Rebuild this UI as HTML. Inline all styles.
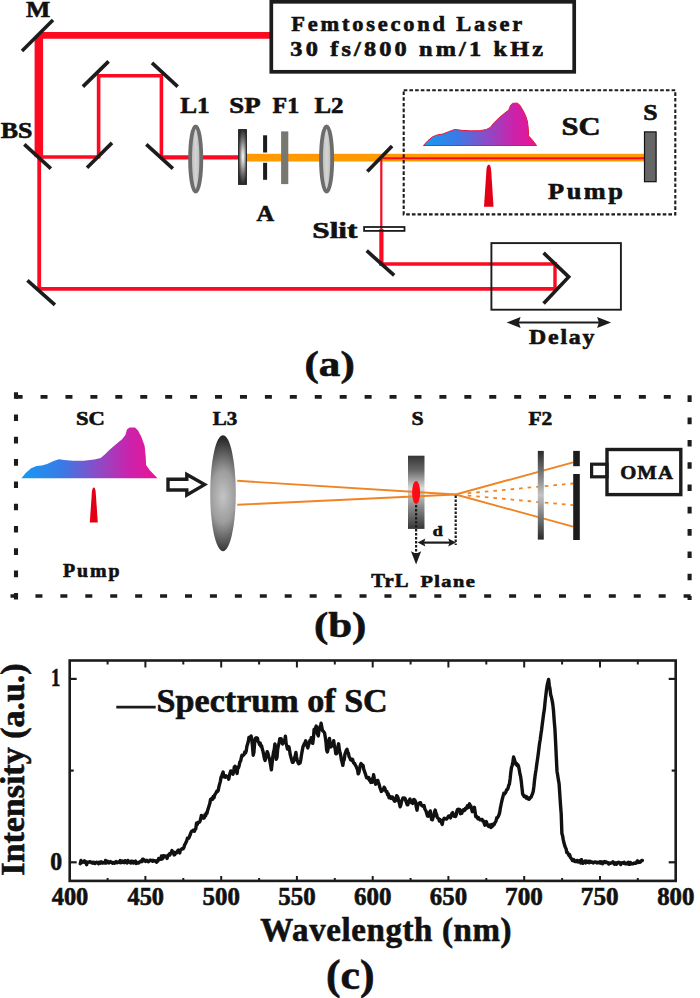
<!DOCTYPE html>
<html><head><meta charset="utf-8"><title>Setup</title>
<style>html,body{margin:0;padding:0;background:#fff;} svg{display:block;} text{font-family:'Liberation Serif', 'Times New Roman', serif;font-weight:bold;fill:#111;stroke:#111;stroke-width:0.6px;}</style>
</head><body>
<svg width="700" height="998" viewBox="0 0 700 998">
<defs>
<linearGradient id="lensg" x1="0" x2="1" y1="0" y2="0"><stop offset="0" stop-color="#b4b4b4"/><stop offset="0.5" stop-color="#d4d4d4"/><stop offset="1" stop-color="#b4b4b4"/></linearGradient>
<radialGradient id="spg" cx="0.55" cy="0.49" r="0.5" fx="0.55" fy="0.49" gradientTransform="translate(0.55 0.49) scale(1.3 1) translate(-0.55 -0.49)"><stop offset="0" stop-color="#ffffff"/><stop offset="0.25" stop-color="#c8c8c8"/><stop offset="0.6" stop-color="#767676"/><stop offset="1" stop-color="#2c2c2c"/></radialGradient>
<linearGradient id="scg" x1="423" x2="537" y1="0" y2="0" gradientUnits="userSpaceOnUse"><stop offset="0" stop-color="#1799f2"/><stop offset="0.3" stop-color="#3a7ae6"/><stop offset="0.55" stop-color="#8a4cc8"/><stop offset="0.8" stop-color="#cc22aa"/><stop offset="1" stop-color="#ea1496"/></linearGradient>
<linearGradient id="scg2" x1="21.4" x2="157.5" y1="0" y2="0" gradientUnits="userSpaceOnUse"><stop offset="0" stop-color="#1799f2"/><stop offset="0.3" stop-color="#3a7ae6"/><stop offset="0.55" stop-color="#8a4cc8"/><stop offset="0.8" stop-color="#cc22aa"/><stop offset="1" stop-color="#ea1496"/></linearGradient>
<radialGradient id="l3g" cx="0.5" cy="0.53" r="0.5" gradientTransform="translate(0.5 0.53) scale(2.2 1) translate(-0.5 -0.53)"><stop offset="0" stop-color="#c4c4c4"/><stop offset="0.45" stop-color="#9c9c9c"/><stop offset="0.75" stop-color="#5e5e5e"/><stop offset="1" stop-color="#2a2a2a"/></radialGradient>
<linearGradient id="sbg" x1="0" x2="0" y1="0" y2="1"><stop offset="0" stop-color="#353535"/><stop offset="0.2" stop-color="#666"/><stop offset="0.45" stop-color="#dcdcdc"/><stop offset="0.7" stop-color="#8a8a8a"/><stop offset="1" stop-color="#353535"/></linearGradient>
<linearGradient id="f2g" x1="0" x2="0" y1="0" y2="1"><stop offset="0" stop-color="#2a2a2a"/><stop offset="0.5" stop-color="#c4c4c4"/><stop offset="1" stop-color="#2a2a2a"/></linearGradient>
</defs>
<polygon points="41.1,31.9 270,31.9 270,38.7 43.1,38.7 43.1,157 34.6,157 34.6,38.4" fill="#fb0a22"/>
<line x1="39.2" y1="156.0" x2="39.2" y2="289.0" stroke="#fb0a22" stroke-width="3.8"/>
<line x1="37.3" y1="288.9" x2="556.7" y2="288.9" stroke="#fb0a22" stroke-width="3.7"/>
<line x1="39.2" y1="157.0" x2="98.6" y2="157.0" stroke="#fb0a22" stroke-width="3.6"/>
<line x1="98.6" y1="158.5" x2="98.6" y2="75.7" stroke="#fb0a22" stroke-width="3.6"/>
<line x1="97.0" y1="75.7" x2="161.4" y2="75.7" stroke="#fb0a22" stroke-width="3.6"/>
<line x1="161.4" y1="74.0" x2="161.4" y2="158.8" stroke="#fb0a22" stroke-width="3.6"/>
<line x1="160.0" y1="157.4" x2="240.0" y2="157.4" stroke="#fb0a22" stroke-width="4.2"/>
<rect x="246" y="153.8" width="398" height="7.7" fill="#ff9a00"/>
<line x1="382.7" y1="158.3" x2="644.0" y2="158.3" stroke="#fb0a22" stroke-width="2"/>
<line x1="381.3" y1="158.3" x2="381.3" y2="230.0" stroke="#fb0a22" stroke-width="2.2"/>
<line x1="381.4" y1="229.0" x2="381.4" y2="265.5" stroke="#fb0a22" stroke-width="4.2"/>
<line x1="379.4" y1="264.1" x2="556.7" y2="264.1" stroke="#fb0a22" stroke-width="3.5"/>
<line x1="555.0" y1="262.4" x2="555.0" y2="290.6" stroke="#fb0a22" stroke-width="3.4"/>
<line x1="22.0" y1="51.0" x2="53.0" y2="20.0" stroke="#1c1c1c" stroke-width="3.6"/>
<line x1="24.3" y1="144.3" x2="50.9" y2="168.6" stroke="#1c1c1c" stroke-width="3.6"/>
<line x1="87.0" y1="167.7" x2="112.0" y2="142.9" stroke="#1c1c1c" stroke-width="3.6"/>
<line x1="82.9" y1="86.6" x2="108.6" y2="61.4" stroke="#1c1c1c" stroke-width="3.6"/>
<line x1="152.0" y1="62.9" x2="177.7" y2="86.6" stroke="#1c1c1c" stroke-width="3.6"/>
<line x1="146.3" y1="144.3" x2="172.9" y2="168.6" stroke="#1c1c1c" stroke-width="3.6"/>
<line x1="367.3" y1="171.6" x2="392.1" y2="145.9" stroke="#1c1c1c" stroke-width="3.6"/>
<line x1="366.7" y1="250.7" x2="394.2" y2="275.4" stroke="#1c1c1c" stroke-width="3.6"/>
<line x1="27.4" y1="280.3" x2="54.9" y2="304.8" stroke="#1c1c1c" stroke-width="3.6"/>
<rect x="271.3" y="1.8" width="302.9" height="70" fill="none" stroke="#1c1c1c" stroke-width="3.7"/>
<ellipse cx="195.7" cy="158.95" rx="5.6" ry="32.65" fill="url(#lensg)" stroke="#6c6c6c" stroke-width="3.8"/>
<ellipse cx="326.6" cy="158.95" rx="5.6" ry="32.65" fill="url(#lensg)" stroke="#6c6c6c" stroke-width="3.8"/>
<rect x="238.6" y="129.6" width="7.8" height="54.8" fill="url(#spg)" stroke="#222" stroke-width="1"/>
<rect x="263.1" y="135.3" width="4" height="17.2" fill="#1c1c1c"/>
<rect x="263.1" y="162.8" width="4" height="17" fill="#1c1c1c"/>
<rect x="281.1" y="131.4" width="7.2" height="52.7" fill="#787870"/>
<rect x="364.1" y="227.0" width="40.4" height="3.9" fill="none" stroke="#1c1c1c" stroke-width="1.8"/>
<rect x="403.7" y="90.3" width="271.6" height="124.1" fill="none" stroke="#1c1c1c" stroke-width="2.1" stroke-dasharray="3.6 2.1"/>
<rect x="644.5" y="131.9" width="11.6" height="49.8" fill="#666" stroke="#111" stroke-width="1.2"/>
<rect x="491.4" y="243.1" width="129.5" height="66.6" fill="none" stroke="#1c1c1c" stroke-width="1.9"/>
<polyline points="543.6,252.9 568.7,276.9 543.6,303.6" fill="none" stroke="#1c1c1c" stroke-width="3.6"/>
<line x1="515.0" y1="322.5" x2="602.0" y2="322.5" stroke="#1c1c1c" stroke-width="1.8"/>
<polygon points="506.6,322.5 520.6,317.0 518.8,322.5 520.6,328.0" fill="#1c1c1c"/>
<polygon points="611.1,322.5 597.1,317.0 598.9,322.5 597.1,328.0" fill="#1c1c1c"/>
<polygon points="423.4,145.5 428.0,140.5 432.6,136.8 437.3,134.9 442.9,134.0 448.4,131.8 454.9,129.4 461.4,130.3 470.7,130.8 480.0,130.7 486.5,129.4 490.2,127.5 493.9,122.9 498.6,118.2 504.1,113.6 508.8,109.9 510.6,105.2 512.5,103.4 517.1,103.0 519.9,105.2 522.7,109.9 525.5,115.4 527.3,121.0 528.3,128.4 528.6,135.9 532.0,139.6 536.6,145.5" fill="url(#scg)" stroke="#e8173a" stroke-width="1" stroke-linejoin="round"/>
<path d="M484,206.8 L486.3,172 C486.6,167 487.3,164.8 488.8,164.8 C490.3,164.8 491,167 491.3,172 L493.5,206.8 Z" fill="#e30016"/>
<line x1="15.6" y1="396.9" x2="680.0" y2="396.9" stroke="#1c1c1c" stroke-width="3.6" stroke-dasharray="7 17.93"/>
<line x1="10.5" y1="596.0" x2="692.0" y2="596.0" stroke="#1c1c1c" stroke-width="3.6" stroke-dasharray="7 17.93"/>
<line x1="16.0" y1="392.2" x2="16.0" y2="600.0" stroke="#1c1c1c" stroke-width="4.1" stroke-dasharray="6.6 15.7"/>
<line x1="689.6" y1="395.3" x2="689.6" y2="600.0" stroke="#1c1c1c" stroke-width="4.1" stroke-dasharray="6.6 15.7"/>
<polygon points="21.4,478.3 25.7,473.1 31.1,468.2 36.4,466.1 41.8,465.4 47.1,463.9 53.6,461.1 58.9,459.2 64.3,459.9 72.9,460.7 83.6,460.7 94.3,459.6 100.7,457.9 105.0,454.3 109.3,450.0 115.7,444.6 122.1,439.3 125.4,435.0 126.9,429.6 129.6,427.5 135.0,427.5 138.2,430.7 141.4,437.1 144.6,445.7 145.7,456.4 146.1,465.0 150.0,470.4 157.5,478.3" fill="url(#scg2)" stroke="none"/>
<path d="M89.8,522.6 L91.9,492 C92.2,489 92.8,487.5 93.8,487.5 C94.8,487.5 95.4,489 95.7,492 L97.8,522.6 Z" fill="#e30016"/>
<polygon points="168,479.3 186.8,479.3 186.8,474.4 204.6,484.6 186.8,495 186.8,490 168,490" fill="#fff" stroke="#1c1c1c" stroke-width="3.4" stroke-linejoin="miter" stroke-miterlimit="10"/>
<ellipse cx="223" cy="493.2" rx="12.8" ry="58" fill="url(#l3g)"/>
<rect x="408" y="455.7" width="16.5" height="73.2" fill="url(#sbg)"/>
<line x1="237.2" y1="480.8" x2="455.7" y2="494.5" stroke="#ef8424" stroke-width="1.9"/>
<line x1="237.2" y1="504.8" x2="455.7" y2="494.5" stroke="#ef8424" stroke-width="1.9"/>
<ellipse cx="416.1" cy="492.5" rx="4" ry="11.6" fill="#ff0a14"/>
<line x1="455.7" y1="494.5" x2="573.1" y2="462.3" stroke="#ef8424" stroke-width="1.9"/>
<line x1="455.7" y1="494.5" x2="573.1" y2="526.7" stroke="#ef8424" stroke-width="1.9"/>
<line x1="467.7" y1="493.3" x2="573.1" y2="483.5" stroke="#ef8424" stroke-width="1.8" stroke-dasharray="3.6 5.0"/>
<line x1="467.7" y1="495.6" x2="573.1" y2="505.1" stroke="#ef8424" stroke-width="1.8" stroke-dasharray="3.6 5.0"/>
<rect x="537.8" y="450.9" width="6" height="88.7" fill="url(#f2g)"/>
<rect x="573.2" y="450.9" width="6.6" height="15.3" fill="#1c1c1c"/>
<rect x="573.2" y="474" width="6.6" height="66" fill="#1c1c1c"/>
<rect x="607" y="449.5" width="73.8" height="45.1" fill="none" stroke="#1c1c1c" stroke-width="3.4"/>
<rect x="591.6" y="464.2" width="15.4" height="12.6" fill="none" stroke="#1c1c1c" stroke-width="3.2"/>
<line x1="416.1" y1="505.0" x2="416.1" y2="555.0" stroke="#1c1c1c" stroke-width="2.2" stroke-dasharray="2.4 1.6"/>
<polygon points="411.0,551.3 416.1,553.8 421.2,551.3 416.1,564.6" fill="#1c1c1c"/>
<line x1="455.7" y1="495.5" x2="455.7" y2="545.0" stroke="#1c1c1c" stroke-width="2.2" stroke-dasharray="2.4 1.6"/>
<line x1="422.0" y1="542.6" x2="451.0" y2="542.6" stroke="#1c1c1c" stroke-width="2.2"/>
<polygon points="417.6,542.6 425.4,538.6 424.0,542.6 425.4,546.6" fill="#1c1c1c"/>
<polygon points="456.0,542.6 448.2,538.6 449.6,542.6 448.2,546.6" fill="#1c1c1c"/>
<rect x="69.7" y="660.5" width="606.0" height="220.4" fill="none" stroke="#1c1c1c" stroke-width="2.6"/>
<line x1="107.6" y1="880.9" x2="107.6" y2="878.0" stroke="#1c1c1c" stroke-width="2.0"/>
<line x1="107.6" y1="660.5" x2="107.6" y2="664.5" stroke="#1c1c1c" stroke-width="2.0"/>
<line x1="145.4" y1="880.9" x2="145.4" y2="876.0" stroke="#1c1c1c" stroke-width="2.0"/>
<line x1="145.4" y1="660.5" x2="145.4" y2="667.5" stroke="#1c1c1c" stroke-width="2.0"/>
<line x1="183.3" y1="880.9" x2="183.3" y2="878.0" stroke="#1c1c1c" stroke-width="2.0"/>
<line x1="183.3" y1="660.5" x2="183.3" y2="664.5" stroke="#1c1c1c" stroke-width="2.0"/>
<line x1="221.2" y1="880.9" x2="221.2" y2="876.0" stroke="#1c1c1c" stroke-width="2.0"/>
<line x1="221.2" y1="660.5" x2="221.2" y2="667.5" stroke="#1c1c1c" stroke-width="2.0"/>
<line x1="259.1" y1="880.9" x2="259.1" y2="878.0" stroke="#1c1c1c" stroke-width="2.0"/>
<line x1="259.1" y1="660.5" x2="259.1" y2="664.5" stroke="#1c1c1c" stroke-width="2.0"/>
<line x1="296.9" y1="880.9" x2="296.9" y2="876.0" stroke="#1c1c1c" stroke-width="2.0"/>
<line x1="296.9" y1="660.5" x2="296.9" y2="667.5" stroke="#1c1c1c" stroke-width="2.0"/>
<line x1="334.8" y1="880.9" x2="334.8" y2="878.0" stroke="#1c1c1c" stroke-width="2.0"/>
<line x1="334.8" y1="660.5" x2="334.8" y2="664.5" stroke="#1c1c1c" stroke-width="2.0"/>
<line x1="372.7" y1="880.9" x2="372.7" y2="876.0" stroke="#1c1c1c" stroke-width="2.0"/>
<line x1="372.7" y1="660.5" x2="372.7" y2="667.5" stroke="#1c1c1c" stroke-width="2.0"/>
<line x1="410.6" y1="880.9" x2="410.6" y2="878.0" stroke="#1c1c1c" stroke-width="2.0"/>
<line x1="410.6" y1="660.5" x2="410.6" y2="664.5" stroke="#1c1c1c" stroke-width="2.0"/>
<line x1="448.4" y1="880.9" x2="448.4" y2="876.0" stroke="#1c1c1c" stroke-width="2.0"/>
<line x1="448.4" y1="660.5" x2="448.4" y2="667.5" stroke="#1c1c1c" stroke-width="2.0"/>
<line x1="486.3" y1="880.9" x2="486.3" y2="878.0" stroke="#1c1c1c" stroke-width="2.0"/>
<line x1="486.3" y1="660.5" x2="486.3" y2="664.5" stroke="#1c1c1c" stroke-width="2.0"/>
<line x1="524.2" y1="880.9" x2="524.2" y2="876.0" stroke="#1c1c1c" stroke-width="2.0"/>
<line x1="524.2" y1="660.5" x2="524.2" y2="667.5" stroke="#1c1c1c" stroke-width="2.0"/>
<line x1="562.1" y1="880.9" x2="562.1" y2="878.0" stroke="#1c1c1c" stroke-width="2.0"/>
<line x1="562.1" y1="660.5" x2="562.1" y2="664.5" stroke="#1c1c1c" stroke-width="2.0"/>
<line x1="600.0" y1="880.9" x2="600.0" y2="876.0" stroke="#1c1c1c" stroke-width="2.0"/>
<line x1="600.0" y1="660.5" x2="600.0" y2="667.5" stroke="#1c1c1c" stroke-width="2.0"/>
<line x1="637.8" y1="880.9" x2="637.8" y2="878.0" stroke="#1c1c1c" stroke-width="2.0"/>
<line x1="637.8" y1="660.5" x2="637.8" y2="664.5" stroke="#1c1c1c" stroke-width="2.0"/>
<line x1="69.7" y1="862.3" x2="76.7" y2="862.3" stroke="#1c1c1c" stroke-width="2.2"/>
<line x1="675.7" y1="862.3" x2="668.7" y2="862.3" stroke="#1c1c1c" stroke-width="2.2"/>
<line x1="69.7" y1="770.6" x2="73.7" y2="770.6" stroke="#1c1c1c" stroke-width="2.2"/>
<line x1="675.7" y1="770.6" x2="671.7" y2="770.6" stroke="#1c1c1c" stroke-width="2.2"/>
<line x1="69.7" y1="678.9" x2="76.7" y2="678.9" stroke="#1c1c1c" stroke-width="2.2"/>
<line x1="675.7" y1="678.9" x2="668.7" y2="678.9" stroke="#1c1c1c" stroke-width="2.2"/>
<line x1="116.3" y1="707.1" x2="155.7" y2="707.1" stroke="#1c1c1c" stroke-width="2.9"/>
<path d="M80.3,863.7 L81.0,860.5 L81.7,862.6 L82.4,861.9 L83.1,862.0 L83.8,862.2 L84.5,860.9 L85.2,862.2 L85.9,861.8 L86.6,864.7 L87.3,862.5 L88.0,862.1 L88.7,862.2 L89.4,861.9 L90.1,861.7 L90.8,862.1 L91.5,862.8 L92.2,862.3 L92.9,863.1 L93.6,862.3 L94.3,862.5 L95.0,863.5 L95.7,862.8 L96.4,862.1 L97.1,862.3 L97.8,862.9 L98.5,863.8 L99.2,862.3 L99.9,862.3 L100.6,863.2 L101.3,861.9 L102.0,862.3 L102.7,863.1 L103.4,862.9 L104.1,862.5 L104.8,862.9 L105.5,860.5 L106.2,863.1 L106.9,861.7 L107.6,861.2 L108.3,862.6 L109.0,862.9 L109.7,862.1 L110.4,861.6 L111.1,862.4 L111.8,862.3 L112.5,863.3 L113.2,862.9 L113.9,862.5 L114.6,863.1 L115.3,862.2 L116.0,861.6 L116.7,862.7 L117.4,862.7 L118.1,862.1 L118.8,861.7 L119.5,862.4 L120.2,860.5 L120.9,862.7 L121.6,862.5 L122.3,861.0 L123.0,862.2 L123.7,861.5 L124.4,862.6 L125.1,860.7 L125.8,861.4 L126.5,862.6 L127.2,862.9 L127.9,860.5 L128.6,861.7 L129.3,862.2 L130.0,861.6 L130.7,863.1 L131.4,861.2 L132.1,862.3 L132.8,861.4 L133.5,863.1 L134.2,862.1 L134.9,861.9 L135.6,861.0 L136.3,863.4 L137.0,862.7 L137.7,862.8 L138.4,863.0 L139.1,862.5 L139.8,861.8 L140.5,861.3 L141.2,860.8 L141.9,861.7 L142.6,859.2 L143.3,859.3 L144.0,860.0 L144.7,860.7 L145.4,861.4 L146.1,860.5 L146.8,860.3 L147.5,861.2 L148.2,861.8 L148.9,861.3 L149.6,860.7 L150.3,860.1 L151.0,860.6 L151.7,860.4 L152.4,861.3 L153.1,860.3 L153.8,861.0 L154.5,860.8 L155.2,861.1 L155.9,860.7 L156.6,862.2 L157.3,861.2 L158.0,861.1 L158.7,858.4 L159.4,859.4 L160.1,858.5 L160.8,859.2 L161.5,855.9 L162.2,858.9 L162.9,858.3 L163.6,855.7 L164.3,855.9 L165.0,856.0 L165.7,856.7 L166.4,857.2 L167.1,858.4 L167.8,855.4 L168.5,855.5 L169.2,854.1 L169.9,854.9 L170.6,853.1 L171.3,852.9 L172.0,850.6 L172.7,852.1 L173.4,852.0 L174.1,854.9 L174.8,854.5 L175.5,852.9 L176.2,852.2 L176.9,852.6 L177.6,850.8 L178.3,850.0 L179.0,851.1 L179.7,853.0 L180.4,850.1 L181.1,849.7 L181.8,848.9 L182.5,848.4 L183.2,848.7 L183.9,847.4 L184.6,845.0 L185.3,843.9 L186.0,842.3 L186.7,840.9 L187.4,838.3 L188.1,838.5 L188.8,838.2 L189.5,836.4 L190.2,834.8 L190.9,832.6 L191.6,831.1 L192.3,831.1 L193.0,830.3 L193.7,831.0 L194.4,831.3 L195.1,829.4 L195.8,828.8 L196.5,823.3 L197.2,824.6 L197.9,822.5 L198.6,822.4 L199.3,822.4 L200.0,821.4 L200.7,818.8 L201.4,815.4 L202.1,816.7 L202.8,816.4 L203.5,818.2 L204.2,817.9 L204.9,814.8 L205.6,815.8 L206.3,813.0 L207.0,813.2 L207.7,810.1 L208.4,808.0 L209.1,805.8 L209.8,803.6 L210.5,799.5 L211.2,799.3 L211.9,798.3 L212.6,799.4 L213.3,796.5 L214.0,797.7 L214.7,795.1 L215.4,793.7 L216.1,792.8 L216.8,791.3 L217.5,791.5 L218.2,790.5 L218.9,786.8 L219.6,784.1 L220.3,781.6 L221.0,777.5 L221.7,775.8 L222.4,773.8 L223.1,772.0 L223.8,776.9 L224.5,775.9 L225.2,777.3 L225.9,775.7 L226.6,776.5 L227.3,776.7 L228.0,777.3 L228.7,779.2 L229.4,775.5 L230.1,773.0 L230.8,770.9 L231.5,772.1 L232.2,773.4 L232.9,774.2 L233.6,771.9 L234.3,767.1 L235.0,766.2 L235.7,767.1 L236.4,771.3 L237.1,773.4 L237.8,767.9 L238.5,767.7 L239.2,765.2 L239.9,761.9 L240.6,761.1 L241.3,757.8 L242.0,755.3 L242.7,755.9 L243.4,755.1 L244.1,754.4 L244.8,752.1 L245.5,753.0 L246.2,750.9 L246.9,746.3 L247.6,744.1 L248.3,741.5 L249.0,737.4 L249.7,738.3 L250.4,737.0 L251.1,736.0 L251.8,739.8 L252.5,746.7 L253.2,755.2 L253.9,752.3 L254.6,743.3 L255.3,738.4 L256.0,737.9 L256.7,740.2 L257.4,738.1 L258.1,741.2 L258.8,742.5 L259.5,744.4 L260.2,743.0 L260.9,746.4 L261.6,745.8 L262.3,749.1 L263.0,751.3 L263.7,754.6 L264.4,758.4 L265.1,760.5 L265.8,757.2 L266.5,754.6 L267.2,751.7 L267.9,753.3 L268.6,756.4 L269.3,758.5 L270.0,761.4 L270.7,765.8 L271.4,769.9 L272.1,763.1 L272.8,756.9 L273.5,752.2 L274.2,749.6 L274.9,743.9 L275.6,750.8 L276.3,759.3 L277.0,757.3 L277.7,748.8 L278.4,745.5 L279.1,743.1 L279.8,738.7 L280.5,738.6 L281.2,738.9 L281.9,740.5 L282.6,744.0 L283.3,742.2 L284.0,741.0 L284.7,741.1 L285.4,736.2 L286.1,743.4 L286.8,745.9 L287.5,749.1 L288.2,748.6 L288.9,746.8 L289.6,750.4 L290.3,754.9 L291.0,757.4 L291.7,759.7 L292.4,762.4 L293.1,762.3 L293.8,760.8 L294.5,758.0 L295.2,755.7 L295.9,752.5 L296.6,757.0 L297.3,760.7 L298.0,762.4 L298.7,763.8 L299.4,762.9 L300.1,763.0 L300.8,759.6 L301.5,754.7 L302.2,750.9 L302.9,747.2 L303.6,745.3 L304.3,743.6 L305.0,742.7 L305.7,740.8 L306.4,742.8 L307.1,746.2 L307.8,747.9 L308.5,745.3 L309.2,743.3 L309.9,740.4 L310.6,741.5 L311.3,737.6 L312.0,738.6 L312.7,743.4 L313.4,738.3 L314.1,729.5 L314.8,729.3 L315.5,727.9 L316.2,726.1 L316.9,732.5 L317.6,734.4 L318.3,735.9 L319.0,730.2 L319.7,727.0 L320.4,727.8 L321.1,723.2 L321.8,727.0 L322.5,730.7 L323.2,731.2 L323.9,732.0 L324.6,733.2 L325.3,737.3 L326.0,742.3 L326.7,750.4 L327.4,752.0 L328.1,748.8 L328.8,741.1 L329.5,738.4 L330.2,745.1 L330.9,747.0 L331.6,746.0 L332.3,744.1 L333.0,743.4 L333.7,740.7 L334.4,746.1 L335.1,748.4 L335.8,753.8 L336.5,753.8 L337.2,749.1 L337.9,746.7 L338.6,743.8 L339.3,749.4 L340.0,752.8 L340.7,755.2 L341.4,759.8 L342.1,762.1 L342.8,765.4 L343.5,761.1 L344.2,759.7 L344.9,754.6 L345.6,752.3 L346.3,750.4 L347.0,749.3 L347.7,752.1 L348.4,753.2 L349.1,756.8 L349.8,757.7 L350.5,759.6 L351.2,760.1 L351.9,760.3 L352.6,759.3 L353.3,762.2 L354.0,763.4 L354.7,763.5 L355.4,765.3 L356.1,766.2 L356.8,768.2 L357.5,769.6 L358.2,773.9 L358.9,772.5 L359.6,769.0 L360.3,765.3 L361.0,763.6 L361.7,764.3 L362.4,765.0 L363.1,765.6 L363.8,769.5 L364.5,771.4 L365.2,773.3 L365.9,775.5 L366.6,777.7 L367.3,777.7 L368.0,778.5 L368.7,777.5 L369.4,780.3 L370.1,779.7 L370.8,782.4 L371.5,779.3 L372.2,782.3 L372.9,779.3 L373.6,774.7 L374.3,778.3 L375.0,781.5 L375.7,784.2 L376.4,781.7 L377.1,780.7 L377.8,780.5 L378.5,783.0 L379.2,784.7 L379.9,787.6 L380.6,789.3 L381.3,791.5 L382.0,790.8 L382.7,789.6 L383.4,789.7 L384.1,787.2 L384.8,788.2 L385.5,790.1 L386.2,791.8 L386.9,791.5 L387.6,794.8 L388.3,793.9 L389.0,797.8 L389.7,796.3 L390.4,796.6 L391.1,798.5 L391.8,797.5 L392.5,797.1 L393.2,798.0 L393.9,800.3 L394.6,801.2 L395.3,801.0 L396.0,799.7 L396.7,795.6 L397.4,796.4 L398.1,798.0 L398.8,801.3 L399.5,803.8 L400.2,806.8 L400.9,804.7 L401.6,801.2 L402.3,799.6 L403.0,797.9 L403.7,798.6 L404.4,798.0 L405.1,798.4 L405.8,800.9 L406.5,802.7 L407.2,804.8 L407.9,804.7 L408.6,801.0 L409.3,800.6 L410.0,799.0 L410.7,802.2 L411.4,802.7 L412.1,802.3 L412.8,803.4 L413.5,799.6 L414.2,799.5 L414.9,800.3 L415.6,801.9 L416.3,807.0 L417.0,810.2 L417.7,805.6 L418.4,803.6 L419.1,803.5 L419.8,802.6 L420.5,802.7 L421.2,804.8 L421.9,805.7 L422.6,805.5 L423.3,806.2 L424.0,805.5 L424.7,808.5 L425.4,810.0 L426.1,811.3 L426.8,813.7 L427.5,816.0 L428.2,816.3 L428.9,812.8 L429.6,813.3 L430.3,810.9 L431.0,816.3 L431.7,819.6 L432.4,819.7 L433.1,817.1 L433.8,816.0 L434.5,812.1 L435.2,810.0 L435.9,812.9 L436.6,814.5 L437.3,817.5 L438.0,818.1 L438.7,818.8 L439.4,821.0 L440.1,819.5 L440.8,821.4 L441.5,822.6 L442.2,824.4 L442.9,820.7 L443.6,819.4 L444.3,818.2 L445.0,818.7 L445.7,818.9 L446.4,819.1 L447.1,818.5 L447.8,817.3 L448.5,816.2 L449.2,816.0 L449.9,816.7 L450.6,817.9 L451.3,815.0 L452.0,813.3 L452.7,812.6 L453.4,814.9 L454.1,816.2 L454.8,816.2 L455.5,816.5 L456.2,815.0 L456.9,811.0 L457.6,809.6 L458.3,809.2 L459.0,810.8 L459.7,809.5 L460.4,813.7 L461.1,812.4 L461.8,813.2 L462.5,811.1 L463.2,809.8 L463.9,809.6 L464.6,810.5 L465.3,808.5 L466.0,808.9 L466.7,808.3 L467.4,805.8 L468.1,807.6 L468.8,805.6 L469.5,803.8 L470.2,806.3 L470.9,806.1 L471.6,808.8 L472.3,811.7 L473.0,811.2 L473.7,808.2 L474.4,807.3 L475.1,812.1 L475.8,816.8 L476.5,816.2 L477.2,817.2 L477.9,818.7 L478.6,817.7 L479.3,819.0 L480.0,819.7 L480.7,819.6 L481.4,819.7 L482.1,819.4 L482.8,821.2 L483.5,820.9 L484.2,823.3 L484.9,825.2 L485.6,822.4 L486.3,821.5 L487.0,823.8 L487.7,825.2 L488.4,826.2 L489.1,826.6 L489.8,825.1 L490.5,825.4 L491.2,827.4 L491.9,824.5 L492.6,826.2 L493.3,824.3 L494.0,824.8 L494.7,823.3 L495.4,822.0 L496.1,820.7 L496.8,817.7 L497.5,817.8 L498.2,816.4 L498.9,815.0 L499.6,812.9 L500.3,808.4 L501.0,805.0 L501.7,801.7 L502.4,798.7 L503.1,796.1 L503.8,793.3 L504.5,794.2 L505.2,793.1 L505.9,792.0 L506.6,789.8 L507.3,789.5 L508.0,788.4 L508.7,785.3 L509.4,784.1 L510.1,778.9 L510.8,772.4 L511.5,767.3 L512.2,765.5 L512.9,761.5 L513.6,756.9 L514.3,759.2 L515.0,761.5 L515.7,764.0 L516.4,763.4 L517.1,765.6 L517.8,764.7 L518.5,766.2 L519.2,769.5 L519.9,773.7 L520.6,776.4 L521.3,781.6 L522.0,788.1 L522.7,794.3 L523.4,795.0 L524.1,796.6 L524.8,796.3 L525.5,796.2 L526.2,798.1 L526.9,796.9 L527.6,798.7 L528.3,798.1 L529.0,799.2 L529.7,798.5 L530.4,797.4 L531.1,797.3 L531.8,795.3 L532.5,793.8 L533.2,791.5 L533.9,786.5 L534.6,779.7 L535.3,774.3 L536.0,770.0 L536.7,764.7 L537.4,759.9 L538.1,755.1 L538.8,749.5 L539.5,743.8 L540.2,739.8 L540.9,734.4 L541.6,729.7 L542.3,724.0 L543.0,718.8 L543.7,713.2 L544.4,709.1 L545.1,701.6 L545.8,695.6 L546.5,689.6 L547.2,685.2 L547.9,682.2 L548.6,679.5 L549.3,685.2 L550.0,689.0 L550.7,694.9 L551.4,697.0 L552.1,700.4 L552.8,704.4 L553.5,710.7 L554.2,720.9 L554.9,728.7 L555.6,742.2 L556.3,757.2 L557.0,771.2 L557.7,775.2 L558.4,779.9 L559.1,783.8 L559.8,794.4 L560.5,804.9 L561.2,813.9 L561.9,833.6 L562.6,835.8 L563.3,839.9 L564.0,843.0 L564.7,845.4 L565.4,847.5 L566.1,848.8 L566.8,852.6 L567.5,852.5 L568.2,853.6 L568.9,855.4 L569.6,854.5 L570.3,857.2 L571.0,858.1 L571.7,859.1 L572.4,860.5 L573.1,860.6 L573.8,859.6 L574.5,861.2 L575.2,861.6 L575.9,861.6 L576.6,860.6 L577.3,860.4 L578.0,862.0 L578.7,861.9 L579.4,861.6 L580.1,860.5 L580.8,863.0 L581.5,859.7 L582.2,861.5 L582.9,863.3 L583.6,861.7 L584.3,862.1 L585.0,861.1 L585.7,862.9 L586.4,861.1 L587.1,862.2 L587.8,862.2 L588.5,861.4 L589.2,862.7 L589.9,861.2 L590.6,861.7 L591.3,862.2 L592.0,861.9 L592.7,862.6 L593.4,862.9 L594.1,862.1 L594.8,862.0 L595.5,862.0 L596.2,862.1 L596.9,863.0 L597.6,862.3 L598.3,862.7 L599.0,862.4 L599.7,861.9 L600.4,863.1 L601.1,861.8 L601.8,862.6 L602.5,863.7 L603.2,861.9 L603.9,862.6 L604.6,861.6 L605.3,862.4 L606.0,861.7 L606.7,862.5 L607.4,862.4 L608.1,862.9 L608.8,864.0 L609.5,863.1 L610.2,863.4 L610.9,862.9 L611.6,862.8 L612.3,862.4 L613.0,861.7 L613.7,863.1 L614.4,864.2 L615.1,863.4 L615.8,862.7 L616.5,864.3 L617.2,862.8 L617.9,862.7 L618.6,862.3 L619.3,862.5 L620.0,863.1 L620.7,864.6 L621.4,863.1 L622.1,862.6 L622.8,862.9 L623.5,863.2 L624.2,862.2 L624.9,863.5 L625.6,863.9 L626.3,863.7 L627.0,863.9 L627.7,862.6 L628.4,862.3 L629.1,864.4 L629.8,864.3 L630.5,862.5 L631.2,863.7 L631.9,863.6 L632.6,863.9 L633.3,863.6 L634.0,863.0 L634.7,863.4 L635.4,863.3 L636.1,863.1 L636.8,861.8 L637.5,860.9 L638.2,862.4 L638.9,861.5 L639.6,862.4 L640.3,862.2 L641.0,861.4 L641.7,860.4 L642.4,860.4" fill="none" stroke="#111" stroke-width="3.4" stroke-linejoin="round" stroke-linecap="round"/>
<text id="t_yl" transform="translate(23.7,0) rotate(-90)" x="-875.75" y="0" font-size="33.45" textLength="212.43" lengthAdjust="spacingAndGlyphs">Intensity (a.u.)</text>
<text id="t_M" x="26.10" y="17.00" font-size="22.85" textLength="24.25" lengthAdjust="spacingAndGlyphs">M</text>
<text id="t_fl" x="291.20" y="31.00" font-size="20.65" textLength="233.85" lengthAdjust="spacingAndGlyphs" style="letter-spacing:2.6px">Femtosecond Laser</text>
<text id="t_fs" x="290.35" y="55.70" font-size="20.05" textLength="255.82" lengthAdjust="spacingAndGlyphs" style="letter-spacing:2.6px">30 fs/800 nm/1 kHz</text>
<text id="t_BS" x="0.85" y="137.80" font-size="22.65" textLength="31.65" lengthAdjust="spacingAndGlyphs">BS</text>
<text id="t_L1" x="180.20" y="113.10" font-size="22.75" textLength="29.42" lengthAdjust="spacingAndGlyphs">L1</text>
<text id="t_SP" x="229.35" y="113.10" font-size="22.4" textLength="31.23" lengthAdjust="spacingAndGlyphs">SP</text>
<text id="t_F1" x="272.60" y="113.10" font-size="22.65" textLength="26.58" lengthAdjust="spacingAndGlyphs">F1</text>
<text id="t_L2" x="314.50" y="113.10" font-size="22.4" textLength="29.05" lengthAdjust="spacingAndGlyphs">L2</text>
<text id="t_A" x="256.45" y="221.30" font-size="22.95" textLength="17.66" lengthAdjust="spacingAndGlyphs">A</text>
<text id="t_Slit" x="312.30" y="237.50" font-size="22.35" textLength="45.17" lengthAdjust="spacingAndGlyphs">Slit</text>
<text id="t_SCa" x="561.60" y="134.90" font-size="24.65" textLength="39.08" lengthAdjust="spacingAndGlyphs">SC</text>
<text id="t_Sa" x="643.25" y="119.80" font-size="22.95" textLength="14.36" lengthAdjust="spacingAndGlyphs">S</text>
<text id="t_Pumpa" x="548.00" y="198.70" font-size="22.6" textLength="77.57" lengthAdjust="spacingAndGlyphs" style="letter-spacing:2.2px">Pump</text>
<text id="t_Delay" x="529.00" y="343.60" font-size="20.85" textLength="67.26" lengthAdjust="spacingAndGlyphs" style="letter-spacing:1.6px">Delay</text>
<text id="t_la" x="304.50" y="375.50" font-size="36.75" textLength="50.26" lengthAdjust="spacingAndGlyphs">(a)</text>
<text id="t_SCb" x="75.90" y="424.70" font-size="19.2" textLength="28.88" lengthAdjust="spacingAndGlyphs">SC</text>
<text id="t_L3" x="212.75" y="424.70" font-size="18.9" textLength="24.50" lengthAdjust="spacingAndGlyphs">L3</text>
<text id="t_Sb" x="411.50" y="424.80" font-size="19.3" textLength="12.15" lengthAdjust="spacingAndGlyphs">S</text>
<text id="t_F2" x="528.40" y="424.70" font-size="19.45" textLength="23.86" lengthAdjust="spacingAndGlyphs">F2</text>
<text id="t_OMA" x="620.20" y="478.60" font-size="18.75" textLength="53.84" lengthAdjust="spacingAndGlyphs" style="letter-spacing:1.0px">OMA</text>
<text id="t_Pumpb" x="63.10" y="576.50" font-size="18.65" textLength="58.37" lengthAdjust="spacingAndGlyphs" style="letter-spacing:1.8px">Pump</text>
<text id="t_d" x="432.75" y="536.20" font-size="13.6" textLength="10.03" lengthAdjust="spacingAndGlyphs">d</text>
<text id="t_TrL" x="371.15" y="586.60" font-size="17.8" textLength="38.55" lengthAdjust="spacingAndGlyphs" style="letter-spacing:1.0px">TrL</text>
<text id="t_Plane" x="420.45" y="586.60" font-size="16.85" textLength="55.67" lengthAdjust="spacingAndGlyphs" style="letter-spacing:1.2px">Plane</text>
<text id="t_lb" x="313.90" y="636.50" font-size="36.85" textLength="52.52" lengthAdjust="spacingAndGlyphs">(b)</text>
<text id="t_y1" x="51.10" y="685.90" font-size="25.05" textLength="9.33" lengthAdjust="spacingAndGlyphs">1</text>
<text id="t_y0" x="50.35" y="870.00" font-size="24.6" textLength="11.88" lengthAdjust="spacingAndGlyphs">0</text>
<text id="t_leg" x="156.60" y="712.30" font-size="33.05" textLength="231.16" lengthAdjust="spacingAndGlyphs">Spectrum of SC</text>
<text id="t_xl" x="260.30" y="941.40" font-size="33.45" textLength="251.82" lengthAdjust="spacingAndGlyphs" style="letter-spacing:0.6px">Wavelength (nm)</text>
<text id="t_lc" x="325.90" y="988.50" font-size="41.9" textLength="48.62" lengthAdjust="spacingAndGlyphs">(c)</text>
<text id="t_x400" x="51.70" y="904.90" font-size="24.75" textLength="36.60" lengthAdjust="spacingAndGlyphs">400</text>
<text id="t_x450" x="127.47" y="904.90" font-size="24.75" textLength="36.57" lengthAdjust="spacingAndGlyphs">450</text>
<text id="t_x500" x="202.50" y="904.90" font-size="24.75" textLength="37.33" lengthAdjust="spacingAndGlyphs">500</text>
<text id="t_x550" x="278.28" y="904.90" font-size="24.75" textLength="37.36" lengthAdjust="spacingAndGlyphs">550</text>
<text id="t_x600" x="354.05" y="904.90" font-size="24.75" textLength="37.43" lengthAdjust="spacingAndGlyphs">600</text>
<text id="t_x650" x="429.83" y="904.90" font-size="24.75" textLength="37.22" lengthAdjust="spacingAndGlyphs">650</text>
<text id="t_x700" x="505.10" y="904.90" font-size="24.75" textLength="37.70" lengthAdjust="spacingAndGlyphs">700</text>
<text id="t_x750" x="580.88" y="904.90" font-size="24.75" textLength="37.67" lengthAdjust="spacingAndGlyphs">750</text>
<text id="t_x800" x="657.15" y="904.90" font-size="24.75" textLength="37.19" lengthAdjust="spacingAndGlyphs">800</text>
</svg>
</body></html>
